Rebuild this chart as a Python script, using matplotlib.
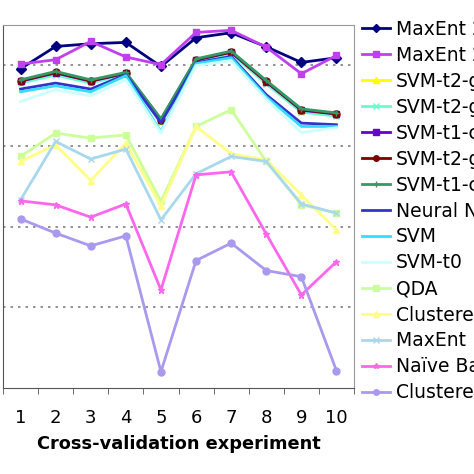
import matplotlib.pyplot as plt

experiments = [1, 2, 3, 4, 5, 6, 7, 8, 9, 10]

# accuracy (%) per cross-validation experiment
maxent2_a = [79.79, 81.17, 81.34, 81.42, 79.93, 81.71, 82.02, 81.15, 80.18, 80.47]
maxent2_b = [80.08, 80.35, 81.48, 80.52, 80.04, 82.04, 82.17, 81.13, 79.48, 80.61]
svm_t2_g_a = [79.00, 79.50, 79.00, 79.48, 76.58, 80.30, 80.80, 78.95, 77.20, 76.95]
svm_t2_g_b = [78.90, 79.40, 78.90, 79.44, 76.50, 80.25, 80.72, 78.85, 77.10, 76.85]
svm_t1_c_a = [79.02, 79.53, 79.02, 79.50, 76.60, 80.33, 80.81, 78.98, 77.22, 76.98]
svm_t2_g_c = [79.04, 79.56, 79.04, 79.52, 76.63, 80.35, 80.83, 79.00, 77.25, 77.00]
svm_t1_c_b = [79.10, 79.62, 79.10, 79.56, 76.68, 80.40, 80.88, 79.06, 77.30, 77.05]
neural_net = [78.53, 78.90, 78.53, 79.42, 76.44, 80.16, 80.55, 78.18, 76.42, 76.32]
svm = [78.36, 78.73, 78.36, 79.36, 75.88, 80.10, 80.47, 78.05, 76.21, 76.21]
svm_t0 = [77.76, 78.49, 78.11, 79.11, 75.82, 79.98, 80.29, 77.91, 75.84, 76.13]
qda = [74.35, 75.80, 75.49, 75.69, 71.56, 76.21, 77.25, 74.04, 71.35, 70.84]
clustered_qda = [74.04, 75.07, 72.86, 75.18, 71.29, 76.21, 74.52, 74.14, 71.97, 69.80]
maxent1 = [71.66, 75.28, 74.19, 74.81, 70.42, 73.28, 74.35, 74.04, 71.41, 70.84]
naive_bayes = [71.60, 71.35, 70.59, 71.41, 66.08, 73.21, 73.40, 69.55, 65.77, 67.83]
clustered_nb = [70.48, 69.60, 68.81, 69.43, 61.01, 67.90, 68.98, 67.28, 66.90, 61.07]

series = [
    ("MaxEnt 2-gram", maxent2_a, "#000080", "D"),
    ("MaxEnt 2-gram+", maxent2_b, "#C040F0", "s"),
    ("SVM-t2-g0.5", svm_t2_g_a, "#FFFF00", "^"),
    ("SVM-t2-g1", svm_t2_g_b, "#66FFCC", "x"),
    ("SVM-t1-c3", svm_t1_c_a, "#6600CC", "s"),
    ("SVM-t2-g2", svm_t2_g_c, "#800000", "o"),
    ("SVM-t1-c2", svm_t1_c_b, "#339966", "+"),
    ("Neural Network", neural_net, "#3333CC", None),
    ("SVM", svm, "#33DDFF", None),
    ("SVM-t0", svm_t0, "#CCFFFF", None),
    ("QDA", qda, "#CCFF99", "s"),
    ("Clustered QDA", clustered_qda, "#FFFF88", "^"),
    ("MaxEnt 1-gram", maxent1, "#A8D8EE", "x"),
    ("Naïve Bayes", naive_bayes, "#FF66EE", "*"),
    ("Clustered NB", clustered_nb, "#AA99EE", "o"),
]

fig = plt.figure(figsize=(4.74, 4.74), dpi=100)
ax = fig.add_axes([3 / 474, 1 - 388 / 474, 351 / 474, 363 / 474])

for name, vals, color, marker in series:
    ax.plot(experiments, vals, color=color, marker=marker, markersize=5,
            linewidth=2, label=name)

ax.set_xlim(0.5, 10.5)
ax.set_ylim(60, 82.5)
ax.set_yticks([65, 70, 75, 80])
ax.yaxis.grid(True, linestyle=(0, (1.5, 3)), color="#808080", linewidth=1.2)
ax.tick_params(axis="y", left=False, labelleft=False)

ax.set_xticks(experiments)
ax.set_xticks([x + 0.5 for x in range(0, 11)], minor=True)
ax.tick_params(axis="x", which="major", length=0, labelsize=13, pad=15)
ax.tick_params(axis="x", which="minor", length=4, direction="out", color="#555555")
ax.set_xlabel("Cross-validation experiment", fontsize=12.8, fontweight="bold", labelpad=6)

for side in ["top", "right"]:
    ax.spines[side].set_color("#999999")
ax.spines["left"].set_color("#555555")
ax.spines["bottom"].set_color("#555555")

fig.legend(loc="upper left", bbox_to_anchor=(362 / 474, 1 - 20 / 474),
           frameon=False, fontsize=13.5, handlelength=1.5, labelspacing=0.37,
           handletextpad=0.3, borderaxespad=0, borderpad=0, markerscale=0.8)

plt.savefig("out.png")
